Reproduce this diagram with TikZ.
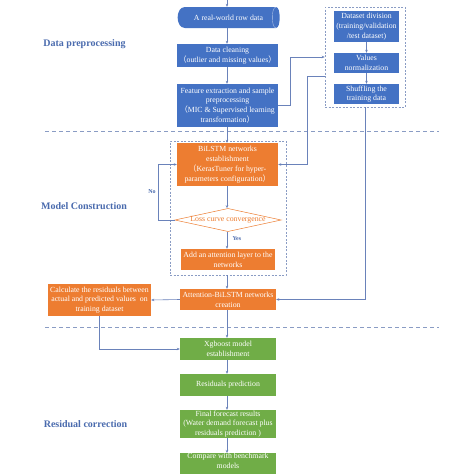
\documentclass[tikz,border=0pt]{standalone}
\usepackage{fontspec}
\setmainfont{Liberation Serif}
\newfontfamily\cjk{Noto Sans CJK SC}
\usetikzlibrary{shapes.geometric,arrows.meta}
\definecolor{bluebox}{HTML}{4472C4}
\definecolor{orangebox}{HTML}{ED7D31}
\definecolor{greenbox}{HTML}{70AD47}
\definecolor{linec}{HTML}{6A82BA}
\definecolor{dashc}{HTML}{8A9CC4}
\definecolor{labc}{HTML}{4A6BAE}
\newcommand{\lp}{{\cjk （}}
\newcommand{\rp}{{\cjk ）}}
\begin{document}
\begin{tikzpicture}[x=1pt,y=-1pt,
  box/.style={draw=none,text=white,align=center,inner sep=0pt,
    font=\fontsize{7.8}{9.8}\selectfont},
  bbox/.style={box,fill=bluebox},
  obox/.style={box,fill=orangebox},
  gbox/.style={box,fill=greenbox},
  grp/.style={draw=dashc,dashed,line width=0.6pt,dash pattern=on 2pt off 1.5pt},
  sep/.style={draw=dashc,line width=0.8pt,dash pattern=on 4pt off 3pt},
  conn/.style={draw=linec,line width=0.6pt,-{Stealth[length=3pt,width=2.5pt]}},
  sect/.style={text=labc,font=\fontsize{10}{12}\selectfont\bfseries},
  small/.style={text=labc,font=\fontsize{6}{7}\selectfont\bfseries}
]
\useasboundingbox (0,0) rectangle (474,474);
\fill[white] (0,0) rectangle (474,474);

% separators
\coordinate (s1a) at (45,131); \coordinate (s1b) at (439,131);
\coordinate (s2a) at (45,327); \coordinate (s2b) at (439,327);
\draw[sep] (s1a) -- (s1b);
\draw[sep] (s2a) -- (s2b);

% section labels
\node[sect] (L1) at (84.5,44) {Data preprocessing};
\node[sect] (L2) at (84,206) {Model Construction};
\node[sect] (L3) at (85.5,424) {Residual correction};

% data preprocessing
\fill[bluebox] (185,7) -- (276,7) to[out=0,in=0,looseness=0.6] (276,28) -- (185,28) to[out=180,in=180,looseness=1.2] cycle;
\draw[white,line width=0.4pt,opacity=0.6] (276,7) to[out=180,in=180,looseness=0.6] (276,28);
\node[box,minimum width=100pt,minimum height=21pt] (data) at (228.5,17.5) {A real-world row data};

\node[bbox,minimum width=101pt,minimum height=23pt] (clean) at (227.5,55.5) {Data cleaning\\\lp outlier and missing values\rp};
\node[bbox,minimum width=101pt,minimum height=43pt] (feat) at (227.5,105.5) {Feature extraction and sample\\preprocessing\\\lp MIC \& Supervised learning\\transformation\rp};

\node[bbox,minimum width=65pt,minimum height=31pt] (div) at (366.5,26.5) {Dataset division\\(training/validation\\/test dataset)};
\node[bbox,minimum width=65pt,minimum height=20pt] (norm) at (366.5,63) {Values\\normalization};
\node[bbox,minimum width=65pt,minimum height=20pt] (shuf) at (366.5,94) {Shuffling the\\training data};
\node[grp,minimum width=80pt,minimum height=100pt,inner sep=0pt] (g1) at (365,57) {};

% model construction
\node[grp,minimum width=116pt,minimum height=134pt,inner sep=0pt] (g2) at (228,208) {};
\node[obox,minimum width=101pt,minimum height=43pt] (bil) at (227.5,164.5) {BiLSTM networks\\establishment\\\lp KerasTuner for hyper-\\parameters configuration\rp};
\node[diamond,aspect=4.6,draw=orangebox,fill=white,line width=0.5pt,text=orangebox,inner sep=0pt,
  minimum width=102pt,minimum height=22pt,font=\fontsize{7.8}{9}\selectfont] (conv) at (228,220) {Loss curve convergence};
\node[obox,minimum width=94pt,minimum height=21pt] (att) at (228,259.5) {Add an attention layer to the\\networks};
\node[obox,minimum width=96pt,minimum height=21pt] (abil) at (228,299.5) {Attention-BiLSTM networks\\creation};
\node[obox,minimum width=103pt,minimum height=32pt] (calc) at (99.5,300) {Calculate the residuals between\\actual and predicted values~ on\\training dataset};

% residual correction
\node[gbox,minimum width=96pt,minimum height=22pt] (xgb) at (228,349) {Xgboost model\\establishment};
\node[gbox,minimum width=96pt,minimum height=22pt] (resp) at (228,385) {Residuals prediction};
\node[gbox,minimum width=96pt,minimum height=28pt] (fin) at (228,424) {Final forecast results\\(Water demand forecast plus\\residuals prediction )};
\node[gbox,minimum width=96pt,minimum height=30pt,anchor=north] (comp) at (228,453) {Compare with benchmark\\models\\[8pt]};

% connectors
\coordinate (top) at (227,0);
\draw[conn] (top) -- (data.north -| top);
\draw[conn] (data.south -| top) -- (clean.north -| top);
\draw[conn] (clean.south -| top) -- (feat.north -| top);
\draw[conn] (feat.south -| top) -- (bil.north -| top);

\coordinate (f1) at (290,105);
\coordinate (f2) at (290,57);
\draw[conn] (feat.east |- f1) -- (f1) -- (f2) -- (g1.west |- f2);
\draw[conn] (div) -- (norm);
\draw[conn] (norm) -- (shuf);

\coordinate (b1) at (307,76);
\draw[conn] (g1.west |- b1) -- (b1) -- (b1 |- bil.east) -- (bil.east);
\coordinate (sx) at (365,107);
\draw[conn] (sx) -- (sx |- abil.east) -- (abil.east);

\draw[conn] (bil.south -| top) -- (conv.north -| top);
\coordinate (n1) at (158,220);
\draw[conn] (conv.west) -- (n1) -- (n1 |- bil.west) -- (bil.west);
\node[small] (no) at (152,192) {No};
\draw[conn] (conv.south -| top) -- (att.north -| top);
\node[small,anchor=west] (yes) at (229,239) {Yes};
\draw[conn] (g2.south -| top) -- (abil.north -| top);
\draw[conn] (abil.west) -- (calc.east);
\coordinate (c1) at (99,349);
\draw[conn] (calc.south -| c1) -- (c1) -- (xgb.west);
\draw[conn] (abil.south -| top) -- (xgb.north -| top);
\draw[conn] (xgb.south -| top) -- (resp.north -| top);
\draw[conn] (resp.south -| top) -- (fin.north -| top);
\draw[conn] (fin.south -| top) -- (comp.north -| top);
\end{tikzpicture}
\end{document}
